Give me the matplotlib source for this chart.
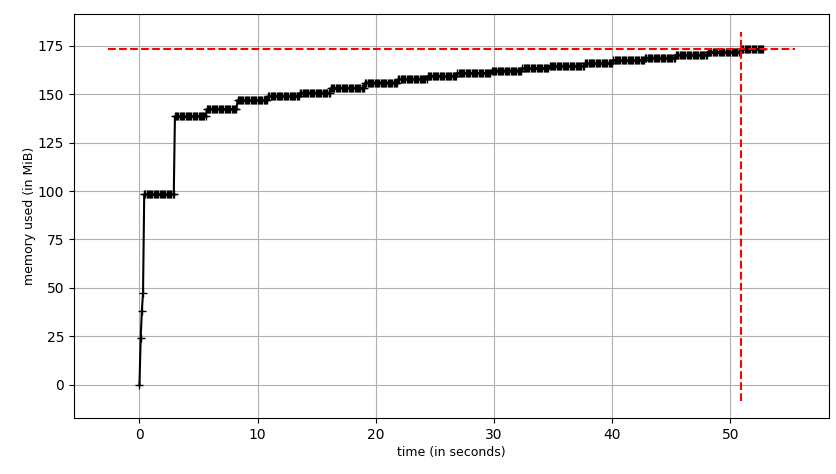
import matplotlib
matplotlib.use("Agg")
import matplotlib.pyplot as plt

# sample times (s), one row per second
t = [
    0.0, 0.1, 0.2, 0.3, 0.4, 0.5, 0.6, 0.7, 0.8, 0.9,
    1.0, 1.1, 1.2, 1.3, 1.4, 1.5, 1.6, 1.7, 1.8, 1.9,
    2.0, 2.1, 2.2, 2.3, 2.4, 2.5, 2.6, 2.7, 2.8, 2.9,
    3.0, 3.1, 3.2, 3.3, 3.4, 3.5, 3.6, 3.7, 3.8, 3.9,
    4.0, 4.1, 4.2, 4.3, 4.4, 4.5, 4.6, 4.7, 4.8, 4.9,
    5.0, 5.1, 5.2, 5.3, 5.4, 5.5, 5.6, 5.7, 5.8, 5.9,
    6.0, 6.1, 6.2, 6.3, 6.4, 6.5, 6.6, 6.7, 6.8, 6.9,
    7.0, 7.1, 7.2, 7.3, 7.4, 7.5, 7.6, 7.7, 7.8, 7.9,
    8.0, 8.1, 8.2, 8.3, 8.4, 8.5, 8.6, 8.7, 8.8, 8.9,
    9.0, 9.1, 9.2, 9.3, 9.4, 9.5, 9.6, 9.7, 9.8, 9.9,
    10.0, 10.1, 10.2, 10.3, 10.4, 10.5, 10.6, 10.7, 10.8, 10.9,
    11.0, 11.1, 11.2, 11.3, 11.4, 11.5, 11.6, 11.7, 11.8, 11.9,
    12.0, 12.1, 12.2, 12.3, 12.4, 12.5, 12.6, 12.7, 12.8, 12.9,
    13.0, 13.1, 13.2, 13.3, 13.4, 13.5, 13.6, 13.7, 13.8, 13.9,
    14.0, 14.1, 14.2, 14.3, 14.4, 14.5, 14.6, 14.7, 14.8, 14.9,
    15.0, 15.1, 15.2, 15.3, 15.4, 15.5, 15.6, 15.7, 15.8, 15.9,
    16.0, 16.1, 16.2, 16.3, 16.4, 16.5, 16.6, 16.7, 16.8, 16.9,
    17.0, 17.1, 17.2, 17.3, 17.4, 17.5, 17.6, 17.7, 17.8, 17.9,
    18.0, 18.1, 18.2, 18.3, 18.4, 18.5, 18.6, 18.7, 18.8, 18.9,
    19.0, 19.1, 19.2, 19.3, 19.4, 19.5, 19.6, 19.7, 19.8, 19.9,
    20.0, 20.1, 20.2, 20.3, 20.4, 20.5, 20.6, 20.7, 20.8, 20.9,
    21.0, 21.1, 21.2, 21.3, 21.4, 21.5, 21.6, 21.7, 21.8, 21.9,
    22.0, 22.1, 22.2, 22.3, 22.4, 22.5, 22.6, 22.7, 22.8, 22.9,
    23.0, 23.1, 23.2, 23.3, 23.4, 23.5, 23.6, 23.7, 23.8, 23.9,
    24.0, 24.1, 24.2, 24.3, 24.4, 24.5, 24.6, 24.7, 24.8, 24.9,
    25.0, 25.1, 25.2, 25.3, 25.4, 25.5, 25.6, 25.7, 25.8, 25.9,
    26.0, 26.1, 26.2, 26.3, 26.4, 26.5, 26.6, 26.7, 26.8, 26.9,
    27.0, 27.1, 27.2, 27.3, 27.4, 27.5, 27.6, 27.7, 27.8, 27.9,
    28.0, 28.1, 28.2, 28.3, 28.4, 28.5, 28.6, 28.7, 28.8, 28.9,
    29.0, 29.1, 29.2, 29.3, 29.4, 29.5, 29.6, 29.7, 29.8, 29.9,
    30.0, 30.1, 30.2, 30.3, 30.4, 30.5, 30.6, 30.7, 30.8, 30.9,
    31.0, 31.1, 31.2, 31.3, 31.4, 31.5, 31.6, 31.7, 31.8, 31.9,
    32.0, 32.1, 32.2, 32.3, 32.4, 32.5, 32.6, 32.7, 32.8, 32.9,
    33.0, 33.1, 33.2, 33.3, 33.4, 33.5, 33.6, 33.7, 33.8, 33.9,
    34.0, 34.1, 34.2, 34.3, 34.4, 34.5, 34.6, 34.7, 34.8, 34.9,
    35.0, 35.1, 35.2, 35.3, 35.4, 35.5, 35.6, 35.7, 35.8, 35.9,
    36.0, 36.1, 36.2, 36.3, 36.4, 36.5, 36.6, 36.7, 36.8, 36.9,
    37.0, 37.1, 37.2, 37.3, 37.4, 37.5, 37.6, 37.7, 37.8, 37.9,
    38.0, 38.1, 38.2, 38.3, 38.4, 38.5, 38.6, 38.7, 38.8, 38.9,
    39.0, 39.1, 39.2, 39.3, 39.4, 39.5, 39.6, 39.7, 39.8, 39.9,
    40.0, 40.1, 40.2, 40.3, 40.4, 40.5, 40.6, 40.7, 40.8, 40.9,
    41.0, 41.1, 41.2, 41.3, 41.4, 41.5, 41.6, 41.7, 41.8, 41.9,
    42.0, 42.1, 42.2, 42.3, 42.4, 42.5, 42.6, 42.7, 42.8, 42.9,
    43.0, 43.1, 43.2, 43.3, 43.4, 43.5, 43.6, 43.7, 43.8, 43.9,
    44.0, 44.1, 44.2, 44.3, 44.4, 44.5, 44.6, 44.7, 44.8, 44.9,
    45.0, 45.1, 45.2, 45.3, 45.4, 45.5, 45.6, 45.7, 45.8, 45.9,
    46.0, 46.1, 46.2, 46.3, 46.4, 46.5, 46.6, 46.7, 46.8, 46.9,
    47.0, 47.1, 47.2, 47.3, 47.4, 47.5, 47.6, 47.7, 47.8, 47.9,
    48.0, 48.1, 48.2, 48.3, 48.4, 48.5, 48.6, 48.7, 48.8, 48.9,
    49.0, 49.1, 49.2, 49.3, 49.4, 49.5, 49.6, 49.7, 49.8, 49.9,
    50.0, 50.1, 50.2, 50.3, 50.4, 50.5, 50.6, 50.7, 50.8, 50.9,
    51.0, 51.1, 51.2, 51.3, 51.4, 51.5, 51.6, 51.7, 51.8, 51.9,
    52.0, 52.1, 52.2, 52.3, 52.4, 52.5, 52.6, 52.7, 52.8,
]

# memory used (MiB) at each sample, same rows as t
mem = [
    0.0, 24.3, 38.0, 47.5, 98.3, 98.3, 98.3, 98.3, 98.3, 98.3,
    98.3, 98.3, 98.3, 98.3, 98.3, 98.3, 98.3, 98.3, 98.3, 98.3,
    98.3, 98.3, 98.3, 98.3, 98.3, 98.3, 98.3, 98.3, 98.3, 98.3,
    138.5, 138.5, 138.5, 138.5, 138.5, 138.5, 138.5, 138.5, 138.5, 138.5,
    138.5, 138.5, 138.5, 138.5, 138.5, 138.5, 138.5, 138.5, 138.5, 138.5,
    138.5, 138.5, 138.5, 138.5, 138.5, 138.5, 138.5, 142.2, 142.2, 142.2,
    142.2, 142.2, 142.2, 142.2, 142.2, 142.2, 142.2, 142.2, 142.2, 142.2,
    142.2, 142.2, 142.2, 142.2, 142.2, 142.2, 142.2, 142.2, 142.2, 142.2,
    142.2, 142.2, 142.2, 146.8, 146.8, 146.8, 146.8, 146.8, 146.8, 146.8,
    146.8, 146.8, 146.8, 146.8, 146.8, 146.8, 146.8, 146.8, 146.8, 146.8,
    146.8, 146.8, 146.8, 146.8, 146.8, 146.8, 146.8, 146.8, 146.8, 148.8,
    148.8, 148.8, 148.8, 148.8, 148.8, 148.8, 148.8, 148.8, 148.8, 148.8,
    148.8, 148.8, 148.8, 148.8, 148.8, 148.8, 148.8, 148.8, 148.8, 148.8,
    148.8, 148.8, 148.8, 148.8, 148.8, 148.8, 150.8, 150.8, 150.8, 150.8,
    150.8, 150.8, 150.8, 150.8, 150.8, 150.8, 150.8, 150.8, 150.8, 150.8,
    150.8, 150.8, 150.8, 150.8, 150.8, 150.8, 150.8, 150.8, 150.8, 150.8,
    150.8, 150.8, 153.1, 153.1, 153.1, 153.1, 153.1, 153.1, 153.1, 153.1,
    153.1, 153.1, 153.1, 153.1, 153.1, 153.1, 153.1, 153.1, 153.1, 153.1,
    153.1, 153.1, 153.1, 153.1, 153.1, 153.1, 153.1, 153.1, 153.1, 153.1,
    153.1, 156.0, 156.0, 156.0, 156.0, 156.0, 156.0, 156.0, 156.0, 156.0,
    156.0, 156.0, 156.0, 156.0, 156.0, 156.0, 156.0, 156.0, 156.0, 156.0,
    156.0, 156.0, 156.0, 156.0, 156.0, 156.0, 156.0, 156.0, 156.0, 157.9,
    157.9, 157.9, 157.9, 157.9, 157.9, 157.9, 157.9, 157.9, 157.9, 157.9,
    157.9, 157.9, 157.9, 157.9, 157.9, 157.9, 157.9, 157.9, 157.9, 157.9,
    157.9, 157.9, 157.9, 157.9, 159.4, 159.4, 159.4, 159.4, 159.4, 159.4,
    159.4, 159.4, 159.4, 159.4, 159.4, 159.4, 159.4, 159.4, 159.4, 159.4,
    159.4, 159.4, 159.4, 159.4, 159.4, 159.4, 159.4, 159.4, 159.4, 160.8,
    160.8, 160.8, 160.8, 160.8, 160.8, 160.8, 160.8, 160.8, 160.8, 160.8,
    160.8, 160.8, 160.8, 160.8, 160.8, 160.8, 160.8, 160.8, 160.8, 160.8,
    160.8, 160.8, 160.8, 160.8, 160.8, 160.8, 160.8, 160.8, 162.2, 162.2,
    162.2, 162.2, 162.2, 162.2, 162.2, 162.2, 162.2, 162.2, 162.2, 162.2,
    162.2, 162.2, 162.2, 162.2, 162.2, 162.2, 162.2, 162.2, 162.2, 162.2,
    162.2, 162.2, 162.2, 162.2, 163.3, 163.3, 163.3, 163.3, 163.3, 163.3,
    163.3, 163.3, 163.3, 163.3, 163.3, 163.3, 163.3, 163.3, 163.3, 163.3,
    163.3, 163.3, 163.3, 163.3, 163.3, 163.3, 163.3, 164.6, 164.6, 164.6,
    164.6, 164.6, 164.6, 164.6, 164.6, 164.6, 164.6, 164.6, 164.6, 164.6,
    164.6, 164.6, 164.6, 164.6, 164.6, 164.6, 164.6, 164.6, 164.6, 164.6,
    164.6, 164.6, 164.6, 164.6, 164.6, 164.6, 164.6, 165.9, 165.9, 165.9,
    165.9, 165.9, 165.9, 165.9, 165.9, 165.9, 165.9, 165.9, 165.9, 165.9,
    165.9, 165.9, 165.9, 165.9, 165.9, 165.9, 165.9, 165.9, 165.9, 165.9,
    165.9, 167.4, 167.4, 167.4, 167.4, 167.4, 167.4, 167.4, 167.4, 167.4,
    167.4, 167.4, 167.4, 167.4, 167.4, 167.4, 167.4, 167.4, 167.4, 167.4,
    167.4, 167.4, 167.4, 167.4, 167.4, 167.4, 167.4, 167.4, 168.8, 168.8,
    168.8, 168.8, 168.8, 168.8, 168.8, 168.8, 168.8, 168.8, 168.8, 168.8,
    168.8, 168.8, 168.8, 168.8, 168.8, 168.8, 168.8, 168.8, 168.8, 168.8,
    168.8, 168.8, 168.8, 168.8, 170.3, 170.3, 170.3, 170.3, 170.3, 170.3,
    170.3, 170.3, 170.3, 170.3, 170.3, 170.3, 170.3, 170.3, 170.3, 170.3,
    170.3, 170.3, 170.3, 170.3, 170.3, 170.3, 170.3, 170.3, 170.3, 170.3,
    170.3, 171.6, 171.6, 171.6, 171.6, 171.6, 171.6, 171.6, 171.6, 171.6,
    171.6, 171.6, 171.6, 171.6, 171.6, 171.6, 171.6, 171.6, 171.6, 171.6,
    171.6, 171.6, 171.6, 171.6, 171.6, 171.6, 171.6, 171.6, 171.6, 173.3,
    173.3, 173.3, 173.3, 173.3, 173.3, 173.3, 173.3, 173.3, 173.3, 173.3,
    173.3, 173.3, 173.3, 173.3, 173.3, 173.3, 173.3, 173.3, 173.3,
]

fig = plt.figure(figsize=(8.36, 4.74), dpi=100)
ax = fig.add_subplot(111)
fig.subplots_adjust(left=0.0885, right=0.9916, top=0.9705, bottom=0.1181)

ax.plot(t, mem, "+-", color="k")

# dashed lines marking the peak, spanning the current view like mprof does
max_mem = max(mem)
max_idx = mem.index(max_mem)
xl = ax.get_xlim()
ax.hlines(max_mem, xl[0] + 0.001, xl[1] - 0.001, colors="r", linestyles="--")
yl = ax.get_ylim()
ax.vlines(t[max_idx], yl[0] + 0.001, yl[1] - 0.001, colors="r", linestyles="--")
ax.set_ylim(-17.2, 191.4)

ax.grid(True)
ax.set_xlabel("time (in seconds)", fontsize=9, labelpad=3)
ax.set_ylabel("memory used (in MiB)", fontsize=9, labelpad=1.5)

fig.savefig("out.png", dpi=100)
